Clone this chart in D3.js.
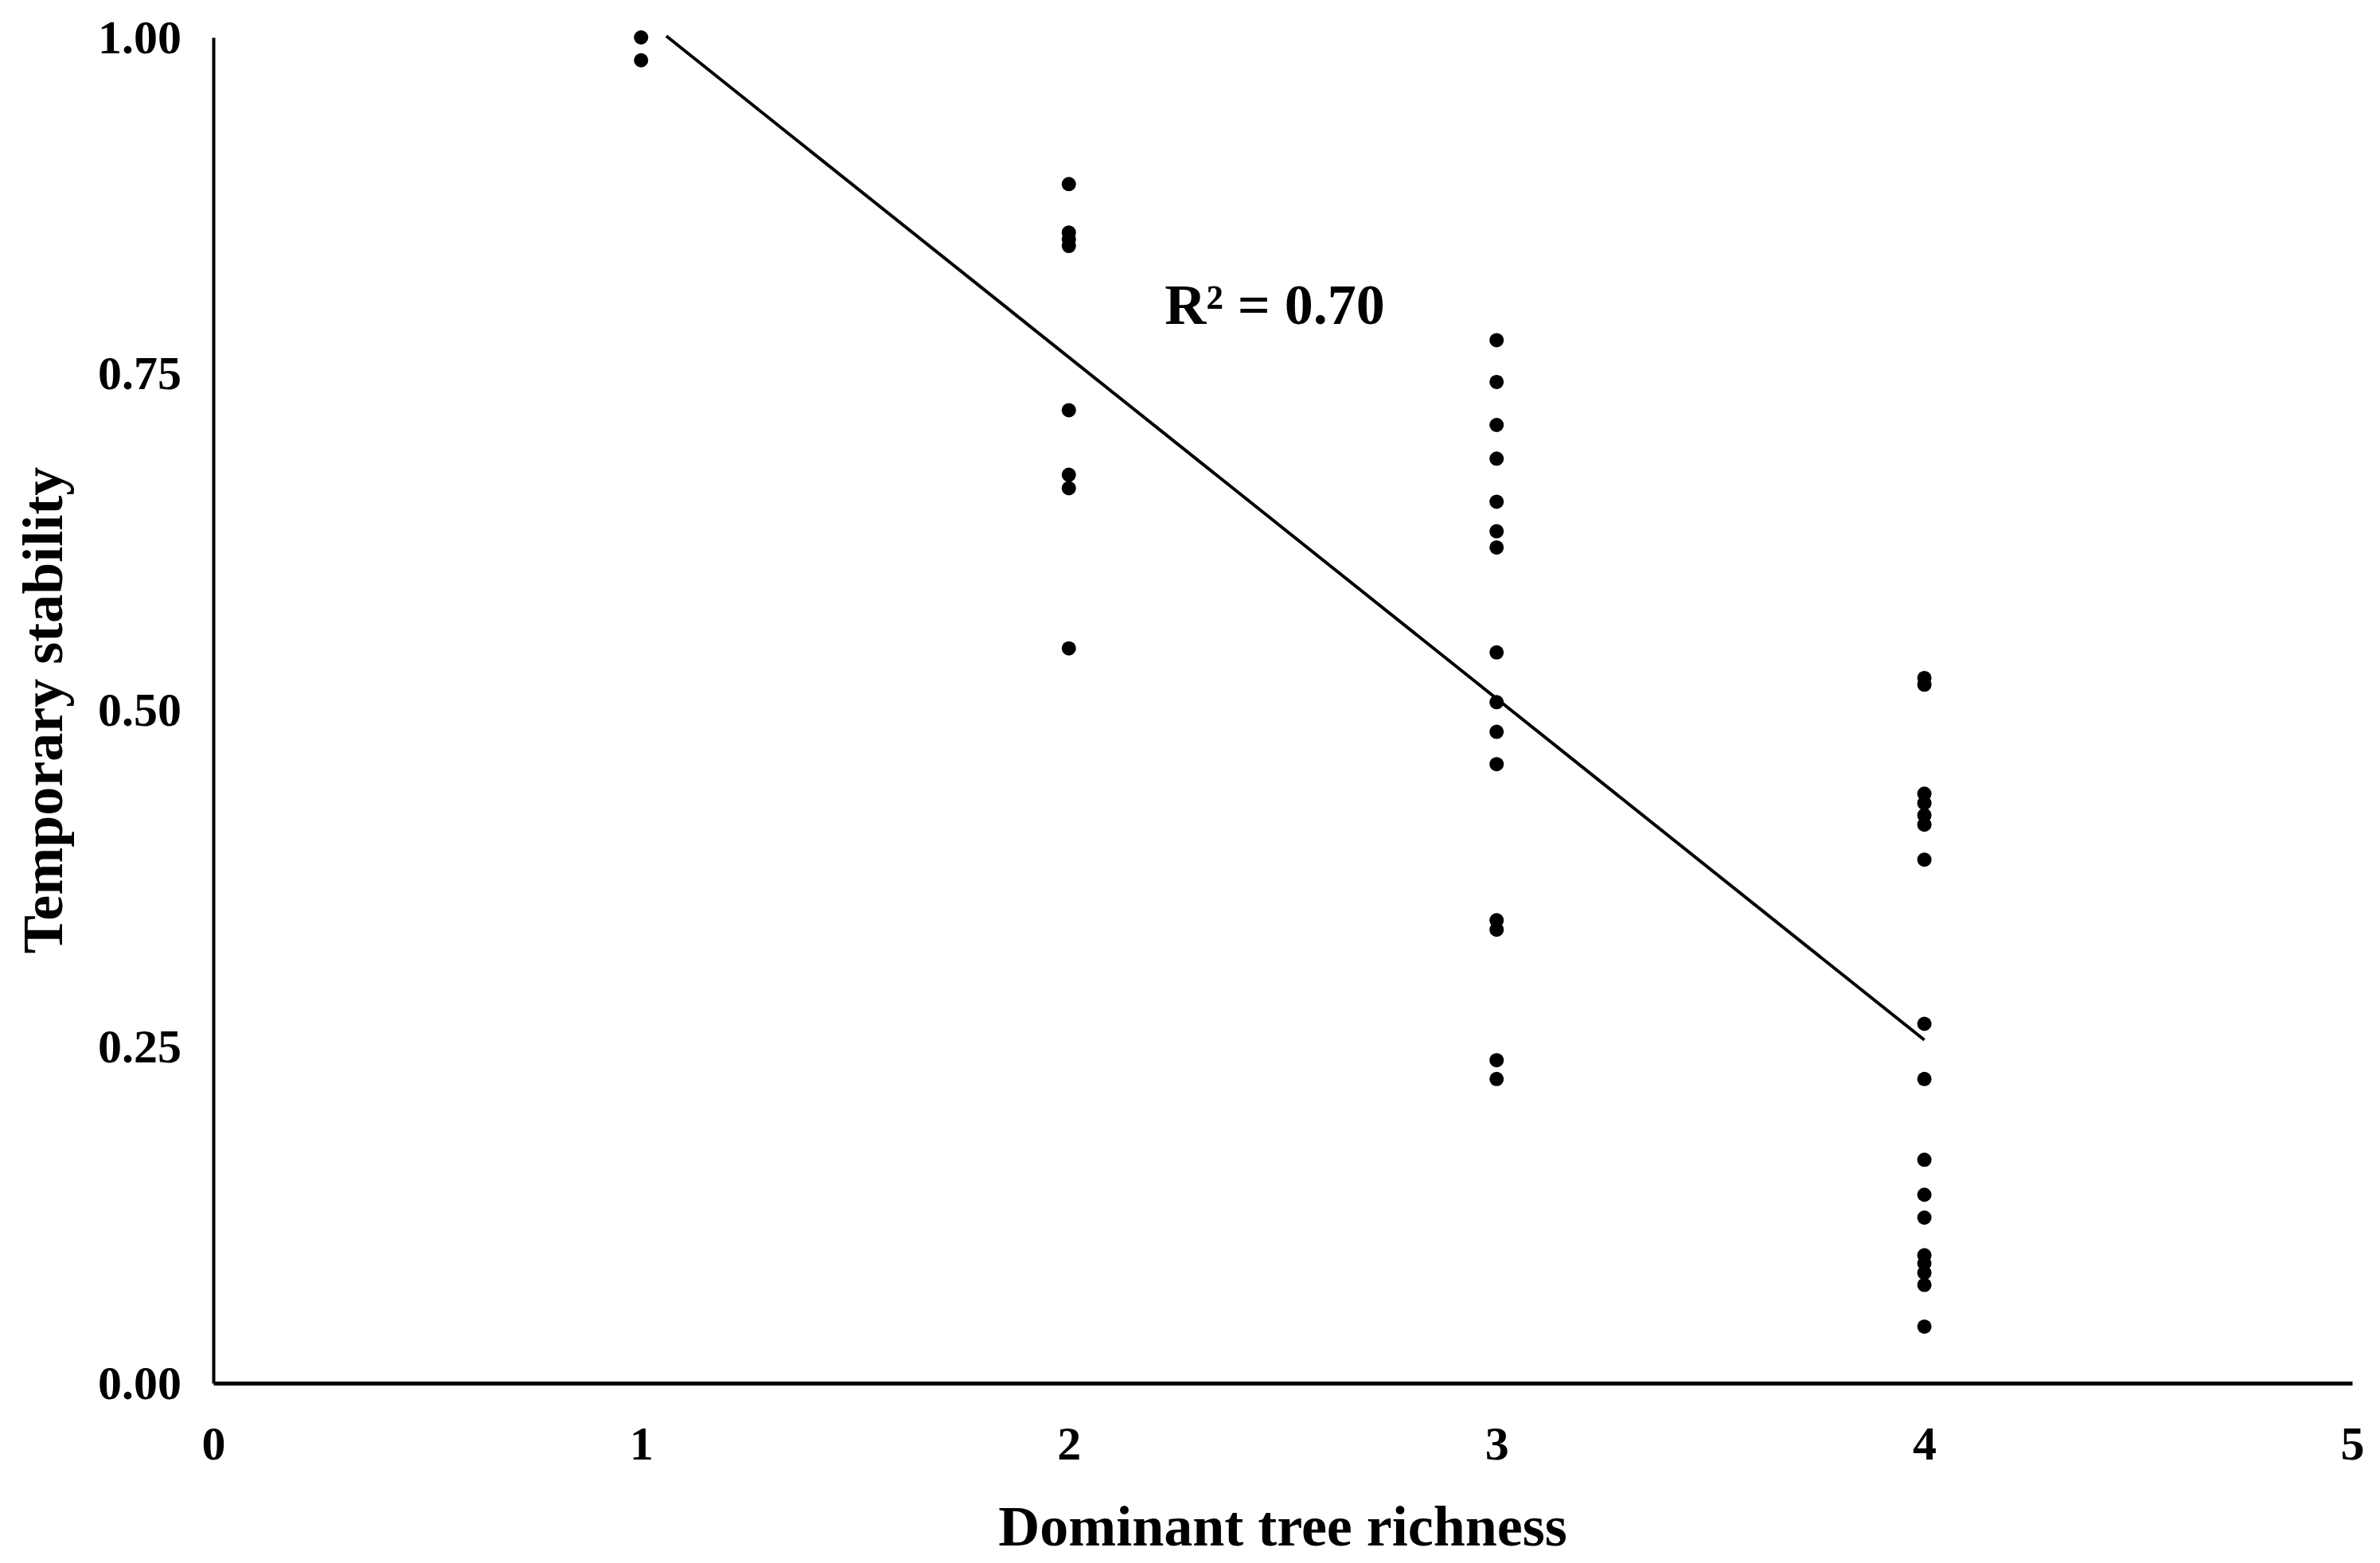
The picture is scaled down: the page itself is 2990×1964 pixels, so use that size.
<!DOCTYPE html>
<html>
<head>
<meta charset="utf-8">
<script src="https://cdn.jsdelivr.net/npm/d3@7"></script>
<style>
  html, body { margin: 0; padding: 0; background: #ffffff; }
  svg { display: block; }
  text { font-family: "Liberation Serif", "Times New Roman", serif; font-weight: bold; fill: #000; }
</style>
</head>
<body>
<svg id="chart" width="2990" height="1964"></svg>
<script>
// ---- data ----
const richness1 = [1.000, 0.983];
const richness2 = [0.891, 0.855, 0.850, 0.845, 0.723, 0.675, 0.665, 0.546];
const richness3 = [0.775, 0.744, 0.712, 0.687, 0.655, 0.633, 0.621, 0.543, 0.506, 0.484, 0.460, 0.344, 0.337, 0.240, 0.226];
const richness4 = [0.524, 0.519, 0.438, 0.431, 0.422, 0.415, 0.389, 0.267, 0.226, 0.166, 0.140, 0.123, 0.095, 0.089, 0.082, 0.073, 0.042];
const richnessLevels = [1, 2, 3, 4];
const trendX = [1.059, 4.0];
const trendY = [1.001, 0.255];
const xTicks = [0, 1, 2, 3, 4, 5];
const yTicks = [0, 0.25, 0.50, 0.75, 1.00];
const r2Label = "R\u00B2 = 0.70";
const xTitle = "Dominant tree richness";
const yTitle = "Temporary stability";

const groups = [richness1, richness2, richness3, richness4];
const points = [];
groups.forEach((vals, i) => vals.forEach(v => points.push({ x: richnessLevels[i], y: v })));

// ---- layout ----
const margin = { left: 268, top: 47, right: 35, bottom: 226 };
const W = 2990, H = 1964;
const svg = d3.select("#chart");

const x = d3.scaleLinear().domain([0, 5]).range([margin.left, W - margin.right]);
const y = d3.scaleLinear().domain([0, 1]).range([H - margin.bottom, margin.top]);

// axes
const xAxis = svg.append("g")
  .attr("transform", `translate(0,${y(0)})`)
  .call(d3.axisBottom(x).tickValues(xTicks).tickFormat(d3.format("d")).tickSize(0).tickPadding(53));
xAxis.select(".domain").attr("stroke", "#000").attr("stroke-width", 5);
xAxis.selectAll("text").style("font-size", "60px").style("font-family", "Liberation Serif").style("font-weight", "bold");

const yAxis = svg.append("g")
  .attr("transform", `translate(${x(0)},0)`)
  .call(d3.axisLeft(y).tickValues(yTicks).tickFormat(d3.format(".2f")).tickSize(0).tickPadding(40));
yAxis.select(".domain").attr("stroke", "#000").attr("stroke-width", 4);
yAxis.selectAll("text").style("font-size", "60px").style("font-family", "Liberation Serif").style("font-weight", "bold");

// trend line
const line = d3.line().x(d => x(d[0])).y(d => y(d[1]));
svg.append("path")
  .datum(d3.zip(trendX, trendY))
  .attr("d", line)
  .attr("fill", "none")
  .attr("stroke", "#000")
  .attr("stroke-width", 4);

// points
svg.append("g").selectAll("circle")
  .data(points)
  .join("circle")
  .attr("cx", d => x(d.x))
  .attr("cy", d => y(d.y))
  .attr("r", 9)
  .attr("fill", "#000");

// R2 annotation
svg.append("text")
  .attr("x", x(2.224))
  .attr("y", y(0.787))
  .style("font-size", "72px")
  .text(r2Label);

// axis titles
svg.append("text")
  .attr("x", (x(0) + x(5)) / 2)
  .attr("y", 1942)
  .attr("text-anchor", "middle")
  .style("font-size", "72px")
  .text(xTitle);

svg.append("text")
  .attr("transform", `translate(78,${y(0.5) + 0}) rotate(-90)`)
  .attr("text-anchor", "middle")
  .style("font-size", "72px")
  .text(yTitle);
</script>
</body>
</html>
